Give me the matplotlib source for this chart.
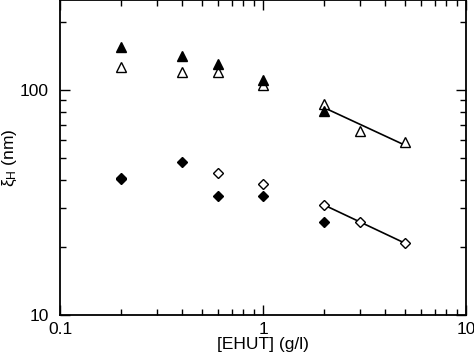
import numpy as np
import matplotlib
matplotlib.use('Agg')
import matplotlib.pyplot as plt

plt.rcParams['font.family'] = ['Liberation Sans', 'DejaVu Sans']
plt.rcParams['mathtext.fontset'] = 'custom'
plt.rcParams['mathtext.rm'] = 'Liberation Sans'
plt.rcParams['mathtext.it'] = 'Liberation Sans'

# EHUT concentration (g/l) and correlation length xi_H (nm)
x_tri_filled = [0.2, 0.4, 0.6, 1.0, 2.0]
y_tri_filled = [155, 141, 130, 111, 81]

x_tri_open = [0.2, 0.4, 0.6, 1.0, 2.0, 3.0, 5.0]
y_tri_open = [127, 120, 120, 105, 86.5, 66, 58.5]

x_dia_filled = [0.2, 0.4, 0.6, 1.0, 2.0]
y_dia_filled = [40.2, 47.7, 33.8, 33.8, 25.8]

x_dia_open = [0.2, 0.6, 1.0, 2.0, 3.0, 5.0]
y_dia_open = [40.5, 42.7, 38.1, 30.9, 25.8, 20.9]

# points used for the power-law fits
fit_x = [2.0, 3.0, 5.0]
fit_tri = [86.5, 66, 58.5]
fit_dia = [30.9, 25.8, 20.9]

fig = plt.figure(figsize=(4.74, 3.59), dpi=100)
ax = fig.add_axes([0.1266, 0.1226, 0.8566, 0.8774])

# open symbols first so the filled ones sit on top
ax.plot(x_tri_open, y_tri_open, '^', mfc='white', mec='black', mew=1, ms=7.5, ls='none')
ax.plot(x_dia_open, y_dia_open, 'D', mfc='white', mec='black', mew=1, ms=5.5, ls='none')
ax.plot(x_tri_filled, y_tri_filled, '^', color='black', ms=7.5, ls='none')
ax.plot(x_dia_filled, y_dia_filled, 'D', color='black', ms=5.5, ls='none')

# power-law fits through the last three points
lx = np.log10(fit_x)
for ys in (fit_tri, fit_dia):
    p = np.polyfit(lx, np.log10(ys), 1)
    xx = np.array([fit_x[0], fit_x[-1]])
    ax.plot(xx, 10 ** np.polyval(p, np.log10(xx)), color='black', lw=1.2, zorder=1)

ax.set_xscale('log')
ax.set_yscale('log')
ax.set_xlim(0.1, 10)
ax.set_ylim(10, 10 ** 2.4)
ax.set_xticks([0.1, 1, 10])
ax.set_xticklabels(['0.1', '1', '10'])
ax.set_yticks([10, 100])
ax.set_yticklabels(['10', '100'])
ax.yaxis.set_minor_formatter(matplotlib.ticker.NullFormatter())
ax.xaxis.set_minor_formatter(matplotlib.ticker.NullFormatter())
ax.tick_params(which='both', direction='in', top=True, right=True, labelsize=12.5, width=1)
ax.tick_params(which='major', length=7)
ax.tick_params(which='minor', length=4)
ax.tick_params(axis='y', pad=8)
ax.tick_params(axis='x', pad=5)
for s in ax.spines.values():
    s.set_linewidth(1.3)

ax.set_xlabel('[EHUT] (g/l)', fontsize=12.5, labelpad=0)
ax.set_ylabel(r'$\xi_\mathrm{H}$ (nm)', fontsize=12.5, labelpad=0)
ax.yaxis.set_label_coords(-0.1, 0.5)

fig.savefig('out.png', dpi=100)
